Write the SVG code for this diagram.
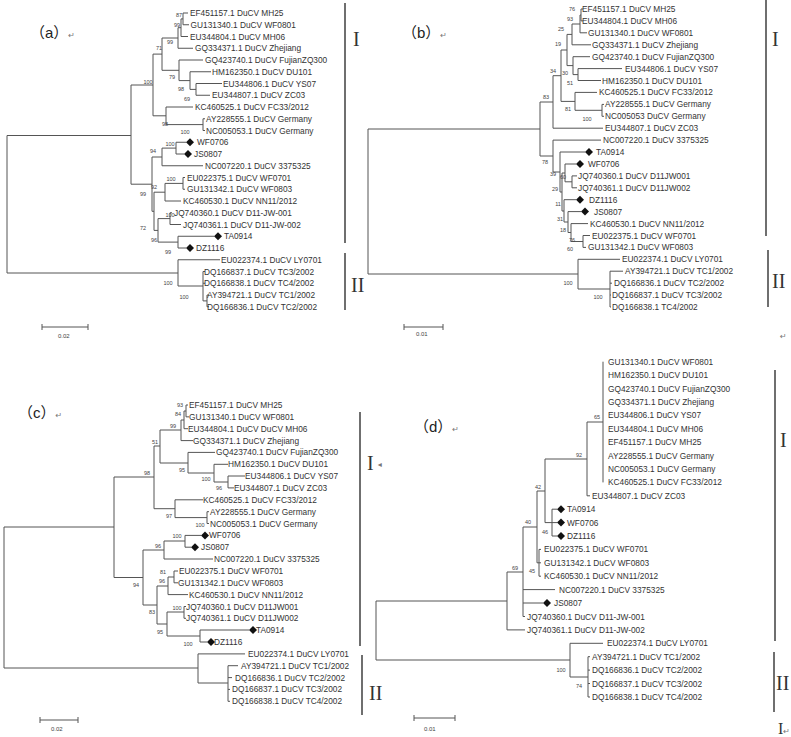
<svg xmlns="http://www.w3.org/2000/svg" xmlns:xlink="http://www.w3.org/1999/xlink" width="791" height="737" viewBox="0 0 791 737">
<style>
.e{fill:none;stroke:#555;stroke-width:1}
.br{stroke:#333;stroke-width:1.4}
.t{font-family:"Liberation Sans",Arial,sans-serif;font-size:8.3px;fill:#333}
.b{font-family:"Liberation Sans",Arial,sans-serif;font-size:5.5px;fill:#444;text-anchor:middle}
.r{font-family:"Liberation Serif","Times New Roman",serif;font-size:20px;fill:#333}
.p{font-family:"Liberation Sans","Noto Sans CJK SC",sans-serif;font-size:15px;fill:#222}
.m{font-family:"DejaVu Sans",sans-serif;font-size:8px;fill:#777}
.s{font-family:"Liberation Sans",Arial,sans-serif;font-size:6px;fill:#444}
</style>
<defs><path id="dm" d="M0,-4 L4,0 L0,4 L-4,0Z" fill="#111"/></defs>
<rect width="791" height="737" fill="#fff"/>
<g id="connectors">
<path class="e" d="M7,135.5V273M7,135.5H131M7,273H178M131,85V184.2M131,85H153M131,184.2H152M153,54.1V115.8M153,54.1H162M153,115.8H166M162,38V70.3M162,38H178M162,70.3H179M178,27.7V48.25M178,27.7H181M178,48.25H193M181,18.9V36.5M181,18.9H183M181,36.5H188M183,13V24.75M183,13H188M183,24.75H189M179,60V80.6M179,60H203M179,80.6H190M190,71.75V89.4M190,71.75H211M190,89.4H196M196,83.5V95.25M196,83.5H222M196,95.25H210M166,107V124.6M166,107H193M166,124.6H203M203,118.75V130.5M203,118.75H205M203,130.5H205M152,157V211.3M152,157H162M152,211.3H154M162,148.1V165.75M162,148.1H176M162,165.75H203M176,142.25V154M176,142.25H186M176,154H184M154,192.2V230.4M154,192.2H165M154,230.4H158M165,183.4V201M165,183.4H183M165,201H181M183,177.5V189.25M183,177.5H185M183,189.25H185M158,218.6V242.1M158,218.6H170M158,242.1H178M170,212.75V224.5M170,212.75H172M170,224.5H181M178,236.25V248M178,236.25H214M178,248H186M178,259.75V286M178,259.75H220M178,286H203M203,271.5V300.9M203,271.5H205M203,283.25H205M203,300.9H207M207,295V306.75M207,295H209M207,306.75H209"/>
<path class="e" d="M368,129V274M368,129H540M368,274H578M540,102V156M540,102H553M540,156H553M553,75.7V128.2M553,75.7H561M553,128.2H603M561,50V101.4M561,50H567M561,101.4H575M567,34.4V65.6M567,34.4H572M567,65.6H573M572,24V44.8M572,24H580M572,44.8H591M580,15V32.8M580,15H581M580,32.8H587M581,9V20.9M581,9H583M581,20.9H583M573,56.7V74.6M573,56.7H590M573,74.6H578M578,68.6V80.5M578,68.6H622M578,80.5H601M575,92.4V110.3M575,92.4H597M575,110.3H602M602,104.4V116.3M602,104.4H604M602,116.3H604M553,140.1V172M553,140.1H601M553,172H560M560,152V192M560,152H585M560,192H562M562,173V211M562,173H565M562,211H564M565,164V181.8M565,164H576M565,181.8H572M572,175.9V187.8M572,175.9H577M572,187.8H577M564,199.7V222M564,199.7H576M564,222H568M568,211.6V232.5M568,211.6H581M568,232.5H571M571,223.6V241.5M571,223.6H588M571,241.5H583M583,235.5V247.4M583,235.5H590M583,247.4H586M578,259.3V289M578,259.3H620M578,289H610M610,271.2V307M610,271.2H623M610,283.2H612M610,295H611M610,307H611"/>
<path class="e" d="M4,527V668M4,527H114M4,668H198M114,477V577.5M114,477H154M114,577.5H143M154,446V508.7M154,446H160M154,508.7H175M160,430V463M160,430H181M160,463H188M181,420V440.6M181,420H184M181,440.6H193M184,411V428.7M184,411H186M184,428.7H188M186,405V416.85M186,405H188M186,416.85H189M188,452.4V473M188,452.4H215M188,473H214M214,464.3V482M214,464.3H228M214,482H228M228,476V487.9M228,476H245M228,487.9H234M175,499.8V517.6M175,499.8H203M175,517.6H207M207,511.7V523.5M207,511.7H209M207,523.5H209M143,550V605M143,550H164M143,605H157M164,541V559M164,541H185M164,559H213M185,535.4V547.2M185,535.4H201M185,547.2H191M157,586V624M157,586H168M157,624H167M168,577V594.6M168,577H174M168,594.6H188M174,571V582.8M174,571H178M174,582.8H178M167,612V636M167,612H184M167,636H200M184,606.5V618.3M184,606.5H186M184,618.3H186M200,630V642M200,630H249M200,642H207M198,653.9V683M198,653.9H245M198,683H228M228,665.7V701.3M228,665.7H238M228,677.6H232M228,689.4H230M228,701.3H230"/>
<path class="e" d="M376,601V660M376,601H507M376,660H570M507,572V629.9M507,572H523M507,629.9H525M523,527V616.5M523,527H537M523,589.6H555M523,603H543M523,616.5H525M537,491V562.8M537,491H545M537,562.8H539M539,549.4V576.2M539,549.4H541M539,562.8H541M539,576.2H541M545,459V522.6M545,459H587M545,522.6H552M552,509.2V536M552,509.2H557M552,522.6H557M552,536H557M587,422V495.8M587,422H603M587,495.8H590M603,361.7V482.4M570,643.3V677M570,643.3H603M570,677H588M588,656.7V697M588,656.7H590M588,670.1H590M588,683.5H590M588,697H590"/>
<path class="e" d="M42,327H88M42,324V330M88,324V330M404,327H443M404,324V330M443,324V330M40,720H78M40,717V723M78,717V723M414,718H455M414,715V721M455,715V721"/>
<path class="br" d="M345,3V243M345,253V310M766,0V236M768,250V307M360,412V646M362,655V715M775,370V641M774,652V712"/>
</g>
<g id="diamonds">
<use xlink:href="#dm" x="190" y="142.25"/><use xlink:href="#dm" x="188" y="154"/><use xlink:href="#dm" x="218" y="236.25"/><use xlink:href="#dm" x="190" y="248"/>
<use xlink:href="#dm" x="589" y="152"/><use xlink:href="#dm" x="580" y="164"/><use xlink:href="#dm" x="580" y="199.7"/><use xlink:href="#dm" x="585" y="211.6"/>
<use xlink:href="#dm" x="205" y="535.4"/><use xlink:href="#dm" x="195" y="547.2"/><use xlink:href="#dm" x="253" y="630"/><use xlink:href="#dm" x="211" y="642"/>
<use xlink:href="#dm" x="561" y="509.2"/><use xlink:href="#dm" x="561" y="522.6"/><use xlink:href="#dm" x="561" y="536"/><use xlink:href="#dm" x="547" y="603"/>
</g>
<g id="panel-a">
<text class="p" x="30" y="38">（a）<tspan class="m">↵</tspan></text>
<g class="t">
<text x="190" y="16">EF451157.1 DuCV MH25</text><text x="190.6" y="27.7">GU131340.1 DuCV WF0801</text><text x="190" y="39.5">EU344804.1 DuCV MH06</text><text x="195" y="51.2">GQ334371.1 DuCV Zhejiang</text><text x="205" y="63">GQ423740.1 DuCV FujianZQ300</text><text x="212" y="74.7">HM162350.1 DuCV DU101</text><text x="223" y="86.5">EU344806.1 DuCV YS07</text><text x="212" y="98.2">EU344807.1 DuCV ZC03</text><text x="195" y="110">KC460525.1 DuCV FC33/2012</text><text x="206" y="121.7">AY228555.1 DuCV Germany</text><text x="206" y="133.5">NC005053.1 DuCV Germany</text><text x="197" y="145.2">WF0706</text><text x="194" y="157">JS0807</text><text x="205" y="168.7">NC007220.1 DuCV 3375325</text><text x="187" y="180.5">EU022375.1 DuCV WF0701</text><text x="187" y="192.2">GU131342.1 DuCV WF0803</text><text x="183" y="204">KC460530.1 DuCV NN11/2012</text><text x="174" y="215.7">JQ740360.1 DuCV D11-JW-001</text><text x="183" y="227.5">JQ740361.1 DuCV D11-JW-002</text><text x="224" y="239.2">TA0914</text><text x="196" y="251">DZ1116</text><text x="221" y="262.7">EU022374.1 DuCV LY0701</text><text x="204" y="274.5">DQ166837.1 DuCV TC3/2002</text><text x="204" y="286.2">DQ166838.1 DuCV TC4/2002</text><text x="207" y="298">AY394721.1 DuCV TC1/2002</text><text x="207" y="309.7">DQ166836.1 DuCV TC2/2002</text>
</g>
<g class="b">
<text x="179" y="17">87</text><text x="177" y="27">99</text><text x="170" y="44">99</text><text x="159" y="50">71</text><text x="172" y="79">79</text><text x="181" y="91">98</text><text x="187" y="101">69</text><text x="148" y="84">100</text><text x="165" y="126">98</text><text x="185" y="134">100</text><text x="170" y="146">100</text><text x="153" y="153">94</text><text x="171" y="181">100</text><text x="154" y="189">92</text><text x="143" y="196">99</text><text x="170" y="217">100</text><text x="143" y="230">72</text><text x="154" y="242">96</text><text x="168" y="254">99</text><text x="168" y="285">100</text><text x="184" y="299">100</text>
</g>
<text class="r" x="353" y="46">I</text><text class="r" x="351" y="292">II</text>
<text class="s" x="58" y="338">0.02</text>
</g>
<g id="panel-b">
<text class="p" x="402" y="38">（b）<tspan class="m">↵</tspan></text>
<g class="t">
<text x="582" y="12">EF451157.1 DuCV MH25</text><text x="582" y="23.9">EU344804.1 DuCV MH06</text><text x="588" y="35.8">GU131340.1 DuCV WF0801</text><text x="592" y="47.8">GQ334371.1 DuCV Zhejiang</text><text x="592" y="59.7">GQ423740.1 DuCV FujianZQ300</text><text x="625" y="71.6">EU344806.1 DuCV YS07</text><text x="602" y="83.5">HM162350.1 DuCV DU101</text><text x="599" y="95.4">KC460525.1 DuCV FC33/2012</text><text x="605" y="107.4">AY228555.1 DuCV Germany</text><text x="605" y="119.3">NC005053 DuCV Germany</text><text x="605" y="131.2">EU344807.1 DuCV ZC03</text><text x="603" y="143.1">NC007220.1 DuCV 3375325</text><text x="596" y="155">TA0914</text><text x="588" y="167">WF0706</text><text x="578" y="178.9">JQ740360.1 DuCV D11JW001</text><text x="578" y="190.8">JQ740361.1 DuCV D11JW002</text><text x="589" y="202.7">DZ1116</text><text x="594" y="214.6">JS0807</text><text x="590" y="226.6">KC460530.1 DuCV NN11/2012</text><text x="592" y="238.5">EU022375.1 DuCV WF0701</text><text x="588" y="250.4">GU131342.1 DuCV WF0803</text><text x="622" y="262.3">EU022374.1 DuCV LY0701</text><text x="625" y="274.2">AY394721.1 DuCV TC1/2002</text><text x="614" y="286.2">DQ166836.1 DuCV TC2/2002</text><text x="612" y="298">DQ166837.1 DuCV TC3/2002</text><text x="612" y="310">DQ166838.1 TC4/2002</text>
</g>
<g class="b">
<text x="572" y="11">76</text><text x="570" y="21">93</text><text x="561" y="31">25</text><text x="558" y="46">19</text><text x="553" y="73">34</text><text x="565" y="75">30</text><text x="570" y="85">51</text><text x="546" y="99">83</text><text x="568" y="111">81</text><text x="587" y="121">100</text><text x="545" y="164">78</text><text x="553" y="176">39</text><text x="563" y="179">60</text><text x="555" y="191">29</text><text x="558" y="206">11</text><text x="560" y="221">31</text><text x="563" y="232">18</text><text x="572" y="242">76</text><text x="570" y="251">60</text><text x="568" y="285">100</text><text x="598" y="299">100</text>
</g>
<text class="r" x="772" y="46">I</text><text class="r" x="772" y="288">II</text>
<text class="s" x="416" y="336">0.01</text>
<text class="m" x="780" y="339">↵</text>
</g>
<g id="panel-c">
<text class="p" x="18" y="418">（c）<tspan class="m">↵</tspan></text>
<g class="t">
<text x="189" y="408">EF451157.1 DuCV MH25</text><text x="189" y="419.8">GU131340.1 DuCV WF0801</text><text x="188" y="431.7">EU344804.1 DuCV DuCV MH06</text><text x="193" y="443.5">GQ334371.1 DuCV Zhejiang</text><text x="216" y="455.4">GQ423740.1 DuCV FujianZQ300</text><text x="228" y="467.3">HM162350.1 DuCV DU101</text><text x="245" y="479">EU344806.1 DuCV YS07</text><text x="234" y="490.9">EU344807.1 DuCV ZC03</text><text x="203" y="502.8">KC460525.1 DuCV FC33/2012</text><text x="210" y="514.7">AY228555.1 DuCV Germany</text><text x="210" y="526.5">NC005053.1 DuCV Germany</text><text x="209" y="538.4">WF0706</text><text x="201" y="550.2">JS0807</text><text x="214" y="562">NC007220.1 DuCV 3375325</text><text x="179" y="574">EU022375.1 DuCV WF0701</text><text x="178" y="585.8">GU131342.1 DuCV WF0803</text><text x="189" y="597.6">KC460530.1 DuCV NN11/2012</text><text x="186" y="609.5">JQ740360.1 DuCV D11JW001</text><text x="186" y="621.3">JQ740361.1 DuCV D11JW002</text><text x="256" y="633">TA0914</text><text x="214" y="645">DZ1116</text><text x="248" y="656.9">EU022374.1 DuCV LY0701</text><text x="241" y="668.7">AY394721.1 DuCV TC1/2002</text><text x="235" y="680.6">DQ166836.1 DuCV TC2/2002</text><text x="232" y="692.4">DQ166837.1 DuCV TC3/2002</text><text x="232" y="704.3">DQ166838.1 DuCV TC4/2002</text>
</g>
<g class="b">
<text x="180" y="407">93</text><text x="178" y="416">84</text><text x="173" y="428">99</text><text x="155" y="444">51</text><text x="147" y="475">98</text><text x="182" y="472">95</text><text x="206" y="481">100</text><text x="219" y="490">96</text><text x="169" y="518">97</text><text x="200" y="527">100</text><text x="177" y="538">100</text><text x="158" y="548">96</text><text x="163" y="574">81</text><text x="162" y="583">96</text><text x="136" y="587">94</text><text x="177" y="610">100</text><text x="152" y="614">83</text><text x="160" y="634">95</text><text x="188" y="646">100</text>
</g>
<text class="r" x="367" y="470">I<tspan class="m" dx="4" dy="-3">◂</tspan></text><text class="r" x="369" y="700">II</text>
<text class="s" x="51" y="731">0.02</text>
</g>
<g id="panel-d">
<text class="p" x="414" y="432">（d）<tspan class="m">↵</tspan></text>
<g class="t">
<text x="608" y="364.7">GU131340.1 DuCV WF0801</text><text x="608" y="378.1">HM162350.1 DuCV DU101</text><text x="608" y="391.5">GQ423740.1 DuCV FujianZQ300</text><text x="608" y="404.9">GQ334371.1 DuCV Zhejiang</text><text x="608" y="418.3">EU344806.1 DuCV YS07</text><text x="608" y="431.7">EU344804.1 DuCV MH06</text><text x="608" y="445.2">EF451157.1 DuCV MH25</text><text x="608" y="458.6">AY228555.1 DuCV Germany</text><text x="608" y="472">NC005053.1 DuCV Germany</text><text x="608" y="485.4">KC460525.1 DuCV FC33/2012</text><text x="592" y="498.8">EU344807.1 DuCV ZC03</text><text x="567" y="512.2">TA0914</text><text x="567" y="525.6">WF0706</text><text x="567" y="539">DZ1116</text><text x="544" y="552.4">EU022375.1 DuCV WF0701</text><text x="544" y="565.8">GU131342.1 DuCV WF0803</text><text x="544" y="579.2">KC460530.1 DuCV NN11/2012</text><text x="559" y="592.6">NC007220.1 DuCV 3375325</text><text x="554" y="606">JS0807</text><text x="527" y="619.5">JQ740360.1 DuCV D11-JW-001</text><text x="527" y="632.9">JQ740361.1 DuCV D11-JW-002</text><text x="607" y="646.3">EU022374.1 DuCV LY0701</text><text x="592" y="659.7">AY394721.1 DuCV TC1/2002</text><text x="592" y="673.1">DQ166836.1 DuCV TC2/2002</text><text x="592" y="686.5">DQ166837.1 DuCV TC3/2002</text><text x="592" y="700">DQ166838.1 DuCV TC4/2002</text>
</g>
<g class="b">
<text x="597" y="419">65</text><text x="579" y="457">92</text><text x="538" y="489">42</text><text x="528" y="524">40</text><text x="545" y="534">46</text><text x="532" y="573">45</text><text x="515" y="570">69</text><text x="561" y="672">100</text><text x="579" y="688">74</text>
</g>
<text class="r" x="780" y="447">I</text><text class="r" x="776" y="690">II</text>
<text class="r" x="778" y="734" style="font-size:16px">I<tspan class="m">↵</tspan></text>
<text class="s" x="424" y="731">0.01</text>
</g>
</svg>
